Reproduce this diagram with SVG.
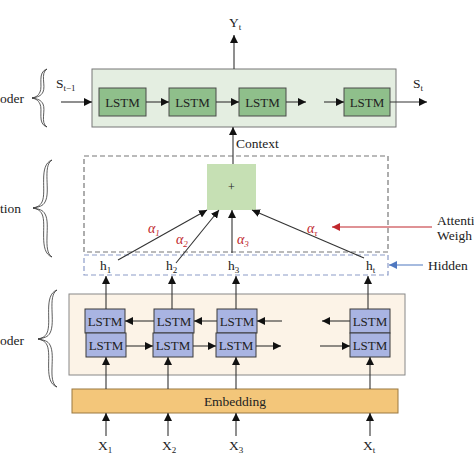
<svg xmlns="http://www.w3.org/2000/svg" width="474" height="474" viewBox="0 0 474 474">
<defs>
<marker id="ah" viewBox="0 0 10 10" refX="10" refY="5" markerWidth="8" markerHeight="8" markerUnits="userSpaceOnUse" orient="auto"><path d="M0,0 L10,5 L0,10 z" fill="#111"/></marker>
<marker id="ahr" viewBox="0 0 10 10" refX="10" refY="5" markerWidth="8" markerHeight="8" markerUnits="userSpaceOnUse" orient="auto"><path d="M0,0 L10,5 L0,10 z" fill="#c0272d"/></marker>
<marker id="ahb" viewBox="0 0 10 10" refX="10" refY="5" markerWidth="8" markerHeight="8" markerUnits="userSpaceOnUse" orient="auto"><path d="M0,0 L10,5 L0,10 z" fill="#4f78c0"/></marker>
</defs>
<style>
text{font-family:"Liberation Serif","DejaVu Serif",serif;fill:#222;font-size:13.5px}
.lbl{font-size:13px;text-anchor:middle}
.sub{font-size:9px}
.red{fill:#c0272d;font-style:italic;font-size:14px}
.dl{fill:#8fbf8b;stroke:#4a4a4a;stroke-width:1}
.el{fill:#a9b4e2;stroke:#3a3a3a;stroke-width:1}
.c{stroke:#333;stroke-width:1.1;fill:none;marker-end:url(#ah)}
.brace{fill:none;stroke:#333;stroke-width:0.8}
</style>
<rect width="474" height="474" fill="#fff"/>

<g id="decoder">
<rect x="92" y="69" width="304" height="58" fill="#e4eee1" stroke="#777" stroke-width="1"/>
<g id="dec-lstm1"><rect class="dl" x="99" y="88" width="47" height="28"/><text class="lbl" x="122.5" y="106.5">LSTM</text></g>
<g id="dec-lstm2"><rect class="dl" x="169" y="88" width="47" height="28"/><text class="lbl" x="192.5" y="106.5">LSTM</text></g>
<g id="dec-lstm3"><rect class="dl" x="239" y="88" width="47" height="28"/><text class="lbl" x="262.5" y="106.5">LSTM</text></g>
<g id="dec-lstm4"><rect class="dl" x="344" y="88" width="46" height="28"/><text class="lbl" x="367" y="106.5">LSTM</text></g>
</g>

<g id="attention">
<rect x="84" y="156" width="304" height="96" fill="none" stroke="#777" stroke-width="1.2" stroke-dasharray="5,3"/>
<g id="sum"><rect x="207" y="164" width="49" height="46" fill="#c6e0b4"/><text x="231.5" y="191" style="text-anchor:middle;font-size:12px">+</text></g>
</g>

<g id="hidden">
<rect x="84" y="255" width="304" height="20" fill="none" stroke="#8c9cc8" stroke-width="1.2" stroke-dasharray="5,3"/>
<text x="100" y="270">h<tspan class="sub" dy="3">1</tspan></text>
<text x="166" y="270">h<tspan class="sub" dy="3">2</tspan></text>
<text x="228" y="270">h<tspan class="sub" dy="3">3</tspan></text>
<text x="366" y="270">h<tspan class="sub" dy="3">t</tspan></text>
</g>

<g id="encoder">
<rect x="69" y="294" width="336" height="81" fill="#fcf3e7" stroke="#888" stroke-width="1"/>
<g id="enc-b1"><rect class="el" x="85" y="309" width="40" height="24"/><text class="lbl" x="105" y="326">LSTM</text></g>
<g id="enc-f1"><rect class="el" x="86" y="333" width="40" height="24"/><text class="lbl" x="106" y="350">LSTM</text></g>
<g id="enc-b2"><rect class="el" x="154" y="309" width="40" height="24"/><text class="lbl" x="174" y="326">LSTM</text></g>
<g id="enc-f2"><rect class="el" x="153" y="333" width="40" height="24"/><text class="lbl" x="173" y="350">LSTM</text></g>
<g id="enc-b3"><rect class="el" x="217" y="309" width="40" height="24"/><text class="lbl" x="237" y="326">LSTM</text></g>
<g id="enc-f3"><rect class="el" x="216" y="333" width="40" height="24"/><text class="lbl" x="236" y="350">LSTM</text></g>
<g id="enc-b4"><rect class="el" x="350" y="309" width="40" height="24"/><text class="lbl" x="370" y="326">LSTM</text></g>
<g id="enc-f4"><rect class="el" x="350" y="333" width="40" height="24"/><text class="lbl" x="370" y="350">LSTM</text></g>
</g>

<g id="embedding">
<rect x="72" y="389" width="326" height="24" fill="#f3c67a" stroke="#9a7840" stroke-width="1"/>
<text x="235" y="405.5" style="text-anchor:middle">Embedding</text>
</g>

<g id="connectors">
<path class="c" d="M61,102 L92,102"/>
<path class="c" d="M146,102 L169,102"/>
<path class="c" d="M216,102 L239,102"/>
<path class="c" d="M286,102 L306,102"/>
<path class="c" d="M324,102 L344,102"/>
<path class="c" d="M390,102 L427,102"/>
<path class="c" d="M234,69 L234,35"/>
<path class="c" d="M233,164 L233,127"/>
<path class="c" d="M118,260 L207,210"/>
<path class="c" d="M176,263 L219,210"/>
<path class="c" d="M232,253 L232,210"/>
<path class="c" d="M364,258 L252,210"/>
<path d="M432,227 L332,227" stroke="#c0272d" stroke-width="1.2" fill="none" marker-end="url(#ahr)"/>
<path d="M423,265 L389,265" stroke="#4f78c0" stroke-width="1.2" fill="none" marker-end="url(#ahb)"/>
<path class="c" d="M106,309 L106,276"/>
<path class="c" d="M172,309 L172,276"/>
<path class="c" d="M236,309 L236,276"/>
<path class="c" d="M368,309 L368,276"/>
<path class="c" d="M154,321 L125,321"/>
<path class="c" d="M217,321 L194,321"/>
<path class="c" d="M282,321 L257,321"/>
<path class="c" d="M350,321 L322,321"/>
<path class="c" d="M126,346 L153,346"/>
<path class="c" d="M193,346 L216,346"/>
<path class="c" d="M256,346 L281,346"/>
<path class="c" d="M320,346 L350,346"/>
<path class="c" d="M106,389 L106,357"/>
<path class="c" d="M168,389 L168,357"/>
<path class="c" d="M236,389 L236,357"/>
<path class="c" d="M370,389 L370,357"/>
<path class="c" d="M106,436 L106,413"/>
<path class="c" d="M168,436 L168,413"/>
<path class="c" d="M236,436 L236,413"/>
<path class="c" d="M370,436 L370,413"/>
</g>

<g id="labels">
<text x="229" y="27">Y<tspan class="sub" dy="3">t</tspan></text>
<text x="56" y="88">S<tspan class="sub" dy="3">t−1</tspan></text>
<text x="413" y="88">S<tspan class="sub" dy="3">t</tspan></text>
<text x="236" y="148">Context</text>
<text class="red" x="148" y="233">α<tspan class="sub" dy="3">1</tspan></text>
<text class="red" x="176" y="244">α<tspan class="sub" dy="3">2</tspan></text>
<text class="red" x="237" y="244">α<tspan class="sub" dy="3">3</tspan></text>
<text class="red" x="307" y="233">α<tspan class="sub" dy="3">τ</tspan></text>
<text x="437" y="225">Attenti</text>
<text x="437" y="240">Weigh</text>
<text x="428" y="270">Hidden</text>
<text x="98" y="450">X<tspan class="sub" dy="3">1</tspan></text>
<text x="162" y="450">X<tspan class="sub" dy="3">2</tspan></text>
<text x="229" y="450">X<tspan class="sub" dy="3">3</tspan></text>
<text x="363" y="450">X<tspan class="sub" dy="3">t</tspan></text>
<text x="0" y="103">oder</text>
<text x="0" y="213">tion</text>
<text x="0" y="345">oder</text>
</g>

<g id="braces">
<path class="brace" d="M47,69 C37,72 43,86 40,92 C38,96 36,97 32,98 C36,99 38,100 40,104 C43,110 37,124 47,127"/>
<path class="brace" d="M47,69 C40,73 46,86 43,92 C41,96 38,97 32,98 C38,99 41,100 43,104 C46,110 40,123 47,127"/>
<path class="brace" d="M52,160 C38,165 47,192 42,202 C40,206 37,207 33,208 C37,209 40,210 42,214 C47,224 38,252 52,257"/>
<path class="brace" d="M52,160 C42,166 51,192 45,202 C43,206 39,207 33,208 C39,209 43,210 45,214 C51,224 42,251 52,257"/>
<path class="brace" d="M57,290 C43,295 52,322 47,333 C45,337 42,338 38,339 C42,340 45,341 47,345 C52,356 43,382 57,387"/>
<path class="brace" d="M57,290 C47,296 56,322 50,333 C48,337 44,338 38,339 C44,340 48,341 50,345 C56,356 47,381 57,387"/>
</g>
</svg>
